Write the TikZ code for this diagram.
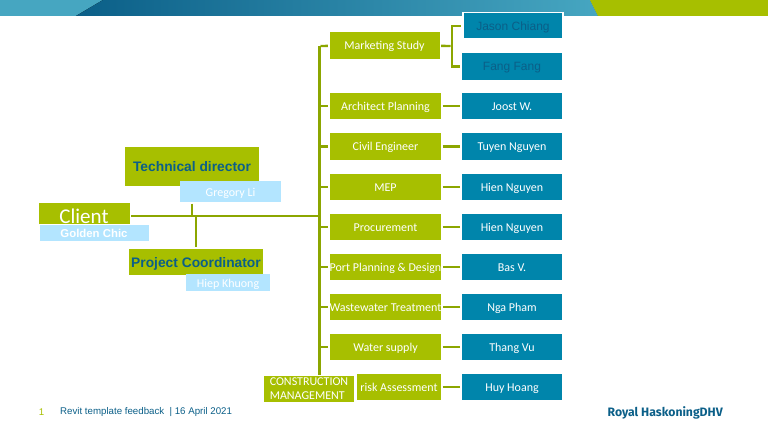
\documentclass[tikz,border=0pt]{standalone}
\usepackage{fontspec}
\setmainfont{Carlito}
\newfontfamily\arialfont{Liberation Sans}
\newfontfamily\logofont{Fira Sans}
\definecolor{rhgreen}{HTML}{A7BF00}
\definecolor{rhline}{HTML}{8CA600}
\definecolor{rhteal}{HTML}{0085AB}
\definecolor{rhpale}{HTML}{B3E5FF}
\definecolor{rhnavy}{HTML}{0B5F88}
\definecolor{rhband}{HTML}{46A6C1}
\begin{document}
\begin{tikzpicture}[x=1pt,y=-1pt,
  conn/.style={draw=rhline,line width=2.4pt,shorten >=1.5pt,shorten <=1.5pt},
  role/.style={fill=rhgreen,text=white,inner sep=0pt,minimum width=111pt,minimum height=26.5pt,text height=8.2pt,text depth=0pt,font=\fontsize{12}{14}\selectfont},
  person/.style={fill=rhteal,text=white,inner sep=0pt,minimum width=100pt,minimum height=26.5pt,text height=8.2pt,text depth=0pt,font=\fontsize{12}{14}\selectfont},
  lead/.style={fill=rhgreen,text=rhnavy,inner sep=0pt,text height=10pt,text depth=0pt,font=\arialfont\bfseries\fontsize{13.8}{16}\selectfont},
  namebox/.style={fill=rhpale,text=white,inner sep=0pt,text height=9pt,text depth=0pt,font=\fontsize{12}{14}\selectfont}]
\useasboundingbox (0,0) rectangle (768,433);

% top band
\fill[rhband] (0,0) rectangle (110,16);
\fill[left color=rhnavy,right color=rhband] (76,16) -- (103,0) -- (590,0) -- (598,16) -- cycle;
\fill[rhgreen] (590,0) -- (768,0) -- (768,16) -- (598,16) -- cycle;

\coordinate (trunktop) at (319,46);
\coordinate (trunkbot) at (319,375);
\coordinate (brk) at (452,46);
\coordinate (main) at (319,216);
\coordinate (gregjoin) at (192,216);
\coordinate (coordjoin) at (196,216);

\node[role,minimum width=110pt,text height=9pt](mkt) at (384.5,45.5) {Marketing Study};
\node[role](arch) at (385.5,106) {Architect Planning};
\node[role](civil) at (385.5,146.5) {Civil Engineer};
\node[role](mep) at (385.5,187) {MEP};
\node[role](proc) at (385.5,227) {Procurement};
\node[role](port) at (385.5,267) {Port Planning \& Design};
\node[role](waste) at (385.5,307) {Wastewater Treatment};
\node[role](water) at (385.5,347) {Water supply};
\node[role,minimum width=84pt](risk) at (399,387) {risk Assessment};

\node[person,draw=white,line width=1.5pt,text=rhnavy,font=\arialfont\fontsize{12}{14}\selectfont](jason) at (513,26) {Jason Chiang};
\node[person,text=rhnavy,font=\arialfont\fontsize{12}{14}\selectfont](fang) at (512,66.5) {Fang Fang};
\node[person](joost) at (512,106) {Joost W.};
\node[person](tuyen) at (512,146.5) {Tuyen Nguyen};
\node[person](hien) at (512,187) {Hien Nguyen};
\node[person](hien2) at (512,227) {Hien Nguyen};
\node[person](bas) at (512,267) {Bas V.};
\node[person](nga) at (512,307) {Nga Pham};
\node[person](thang) at (512,347) {Thang Vu};
\node[person](huy) at (512,387) {Huy Hoang};

\node[lead,minimum width=134pt,minimum height=39pt](tech) at (192,166.5) {Technical director};
\node[namebox,minimum width=101pt,minimum height=21pt](gregory) at (230.5,191.5) {Gregory Li};
\node[fill=rhgreen,text=white,inner sep=0pt,minimum width=91pt,text height=21pt,text depth=0pt,font=\fontsize{21}{23}\selectfont](client) at (84,213) {Client};
\node[namebox,minimum width=109pt,minimum height=16pt,font=\arialfont\bfseries\fontsize{11.4}{13}\selectfont](golden) at (94,233) {Golden Chic};
\node[lead,minimum width=134pt,minimum height=26pt](coord) at (196,262) {Project Coordinator};
\node[namebox,minimum width=84pt,minimum height=17pt](hiep) at (228,282.5) {Hiep Khuong};
\node[fill=rhgreen,text=white,inner sep=0pt,minimum width=90pt,minimum height=26pt,align=left,font=\fontsize{12}{14}\selectfont](constr) at (309,389) {CONSTRUCTION\\MANAGEMENT};

% trunk and branches
\path[conn,line width=3pt,shorten >=0pt,shorten <=0pt] (trunktop) edge (trunkbot);
\path[conn]
(trunktop) edge (mkt)
(trunktop |- arch) edge (arch)
(trunktop |- civil) edge (civil)
(trunktop |- mep) edge (mep)
(trunktop |- proc) edge (proc)
(trunktop |- port) edge (port)
(trunktop |- waste) edge (waste)
(trunktop |- water) edge (water)
(arch) edge (joost)
(civil) edge (tuyen)
(mep) edge (hien)
(proc) edge (hien2)
(port) edge (bas)
(waste) edge (nga)
(water) edge (thang)
(risk) edge (huy)
(mkt) edge (brk);
\draw[conn] (jason.west) -| (brk) |- (fang.west);

\path[conn] (client.east |- main) edge[shorten >=0pt] (main);
\path[conn] (gregjoin |- gregory.south) edge[shorten >=0pt] (gregjoin);
\path[conn] (coordjoin) edge[shorten <=0pt] (coordjoin |- coord.north);

% footer
\node[inner sep=0pt,text=rhgreen,font=\arialfont\fontsize{9.7}{11}\selectfont](pagenum) at (41.5,412) {1};
\node[inner sep=0pt,anchor=west,text=rhnavy,font=\arialfont\fontsize{9.7}{11}\selectfont](footer) at (60,412) {Revit template feedback \ | 16 April 2021};
\node[inner sep=0pt,anchor=west,text=rhnavy,font=\logofont\bfseries\fontsize{12.2}{15}\selectfont](logo) at (607.5,413) {Royal HaskoningDHV};
\end{tikzpicture}
\end{document}
